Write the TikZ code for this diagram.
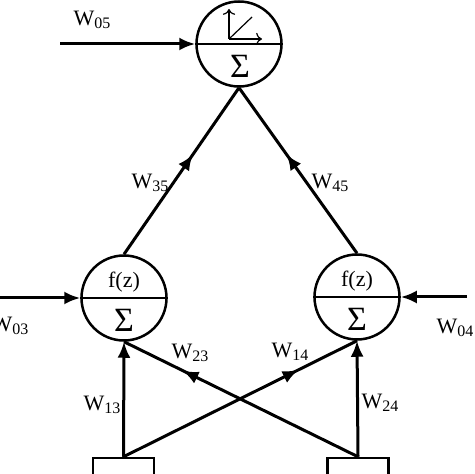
\documentclass[tikz,border=0pt]{standalone}
\usepackage{fontspec}
\setmainfont{Liberation Serif}
\usetikzlibrary{arrows.meta,decorations.markings}
\newcommand{\wlabel}[1]{W\raisebox{-0.25ex}{\fontsize{8}{8}\selectfont #1}}
\tikzset{
  neuron/.style={circle, draw, line width=1.25pt, minimum size=42.5pt, inner sep=0pt},
  inbox/.style={rectangle, draw, line width=1.25pt, minimum width=30.5pt, minimum height=20pt},
  link/.style={line width=1.5pt, -{Latex[length=8pt,width=6.5pt]}},
  midlink/.style={line width=1.5pt, postaction={decorate},
    decoration={markings, mark=at position #1 with {\arrow{Latex[length=8pt,width=6.5pt]}}}},
  bigsum/.style={font=\fontsize{17}{17}\selectfont},
  wt/.style={font=\fontsize{11}{11}\selectfont},
}
\begin{document}
\begin{tikzpicture}[x=0.5pt, y=-0.5pt]
  \clip (0,0) rectangle (474,474);
  % Nodes
  \node (out) [neuron] at (239, 44) {};
  \node (hidA) [neuron] at (124, 298) {};
  \node (hidB) [neuron] at (357, 297) {};
  \node (inA) [inbox] at (123.5, 478) {};
  \node (inB) [inbox] at (358, 478) {};
  % Dividers and inner texts
  \draw[line width=1.25pt] (out.west) -- (out.east);
  \draw[line width=1.25pt] (hidA.west) -- (hidA.east);
  \draw[line width=1.25pt] (hidB.west) -- (hidB.east);
  \node (sumO) [bigsum] at (240, 66) {Σ};
  \node (sumA) [bigsum] at (124, 320) {Σ};
  \node (sumB) [bigsum] at (357, 319) {Σ};
  \node (fA) [wt] at (124, 282) {f(z)};
  \node (fB) [wt] at (357, 281) {f(z)};
  % Axes in output neuron
  \coordinate (org) at (229, 39);
  \coordinate (axY) at (229, 9);
  \coordinate (axX) at (262, 39);
  \coordinate (axD) at (252, 17);
  \draw[line width=0.6pt, ->] (org) -- (axY);
  \draw[line width=0.6pt, ->] (org) -- (axX);
  \draw[line width=0.6pt] (org) -- (axD);
  % Bias inputs
  \coordinate (b5) at (60, 44);
  \coordinate (b3) at (0, 298);
  \coordinate (b4) at (467, 297);
  \draw[link] (b5) -- (out.west);
  \draw[link] (b3) -- (hidA.west);
  \draw[link] (b4) -- (hidB.east);
  % Arrows
  \draw[link] (inA.north) -- (hidA.south);
  \draw[link] (inB.north) -- (hidB.south);
  \draw[midlink=0.75] (inA.north) -- (hidB.south);
  \draw[midlink=0.75] (inB.north) -- (hidA.south);
  \draw[midlink=0.6] (hidA.north) -- (out.south);
  \draw[midlink=0.6] (hidB.north) -- (out.south);
  % Weights
  \node (w05) [wt] at (92, 20) {\wlabel{05}};
  \node (w03) [wt] at (10, 326) {\wlabel{03}};
  \node (w04) [wt] at (455, 328) {\wlabel{04}};
  \node (w35) [wt] at (150, 183) {\wlabel{35}};
  \node (w45) [wt] at (330, 183) {\wlabel{45}};
  \node (w13) [wt] at (102, 405) {\wlabel{13}};
  \node (w24) [wt] at (380, 403) {\wlabel{24}};
  \node (w23) [wt] at (190, 353) {\wlabel{23}};
  \node (w14) [wt] at (290, 352) {\wlabel{14}};
\end{tikzpicture}
\end{document}
